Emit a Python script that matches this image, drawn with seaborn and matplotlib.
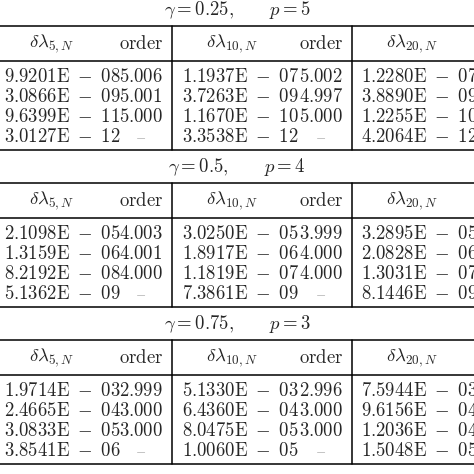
import matplotlib
matplotlib.use("Agg")
import matplotlib.pyplot as plt
import seaborn as sns

sns.set_style("white")
plt.rcParams['mathtext.fontset'] = 'cm'
plt.rcParams['font.family'] = ['DejaVu Serif']

# Data
gammas = ['0.25', '0.5', '0.75']
ps = ['5', '4', '3']
err5 = [['9.9201E-08', '3.0866E-09', '9.6399E-11', '3.0127E-12'],
        ['2.1098E-05', '1.3159E-06', '8.2192E-08', '5.1362E-09'],
        ['1.9714E-03', '2.4665E-04', '3.0833E-05', '3.8541E-06']]
ord5 = [['5.006', '5.001', '5.000', '-'],
        ['4.003', '4.001', '4.000', '-'],
        ['2.999', '3.000', '3.000', '-']]
err10 = [['1.1937E-07', '3.7263E-09', '1.1670E-10', '3.3538E-12'],
         ['3.0250E-05', '1.8917E-06', '1.1819E-07', '7.3861E-09'],
         ['5.1330E-03', '6.4360E-04', '8.0475E-05', '1.0060E-05']]
ord10 = [['5.002', '4.997', '5.000', '-'],
         ['3.999', '4.000', '4.000', '-'],
         ['2.996', '3.000', '3.000', '-']]
err20 = [['1.2280E-07', '3.8890E-09', '1.2255E-10', '4.2064E-12'],
         ['3.2895E-05', '2.0828E-06', '1.3031E-07', '8.1446E-09'],
         ['7.5944E-03', '9.6156E-04', '1.2036E-04', '1.5048E-05']]


def fmt(s):
    m, e = s.split('E')
    return r'$\mathrm{' + m + r'E}\ -\ ' + e[1:] + '$'


def ordtxt(ax, x, y, o, fs):
    if o == '-':
        ax.text(x, y, r'$-$', ha='center', va='center', fontsize=fs * 0.7, color='#999999')
    else:
        ax.text(x, y, '$' + o + '$', ha='center', va='center', fontsize=fs)


fig = plt.figure(figsize=(4.74, 4.74), dpi=100)
ax = fig.add_axes([0, 0, 1, 1])
ax.set_xlim(0, 474)
ax.set_ylim(474, 0)
ax.axis('off')

fs = 13.5
step = 157
row_off = [51, 71, 91, 111]
for b in range(3):
    top = 26 + b * step
    hdr = top + 35
    bot = top + 124
    ax.text(237, top - 16, r'$\gamma = ' + gammas[b] + r',\qquad p = ' + ps[b] + '$',
            ha='center', va='center', fontsize=fs)
    for y in (top, hdr, bot):
        ax.plot([0, 474], [y, y], color='black', lw=1.1)
    for x in (172, 352):
        ax.plot([x, x], [top, bot], color='black', lw=1.1)
    hy = top + 18
    ax.text(52, hy, r'$\delta\lambda_{5,N}$', ha='center', va='center', fontsize=fs)
    ax.text(141, hy, r'$\mathrm{order}$', ha='center', va='center', fontsize=fs)
    ax.text(232, hy, r'$\delta\lambda_{10,N}$', ha='center', va='center', fontsize=fs)
    ax.text(321, hy, r'$\mathrm{order}$', ha='center', va='center', fontsize=fs)
    ax.text(412, hy, r'$\delta\lambda_{20,N}$', ha='center', va='center', fontsize=fs)
    for i in range(4):
        y = top + row_off[i]
        ax.text(4, y, fmt(err5[b][i]), ha='left', va='center', fontsize=fs)
        ordtxt(ax, 141, y, ord5[b][i], fs)
        ax.text(182, y, fmt(err10[b][i]), ha='left', va='center', fontsize=fs)
        ordtxt(ax, 321, y, ord10[b][i], fs)
        ax.text(361, y, fmt(err20[b][i]), ha='left', va='center', fontsize=fs)

fig.savefig('out.png', dpi=100)
